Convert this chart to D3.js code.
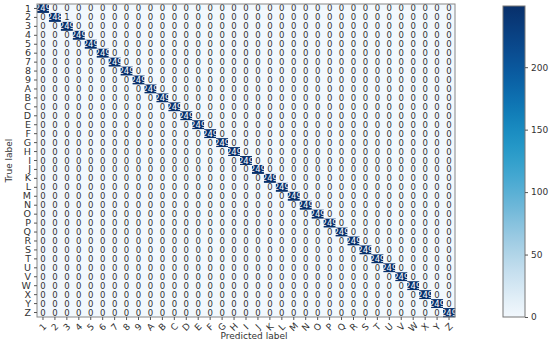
<!DOCTYPE html>
<html><head><meta charset="utf-8">
<script src="https://cdn.jsdelivr.net/npm/d3@7"></script>
<style>body{margin:0;background:#fff}svg{display:block}text{font-family:"DejaVu Sans",sans-serif}</style>
</head><body><svg id="c" width="550" height="343"></svg>
<script>
const labels = ["1","2","3","4","5","6","7","8","9","A","B","C","D","E","F","G","H","I","J","K","L","M","N","O","P","Q","R","S","T","U","V","W","X","Y","Z"];
const diagonal = [249,248,249,249,249,249,249,249,249,249,249,249,249,249,249,249,249,249,249,249,249,249,249,249,249,249,249,249,249,249,249,249,249,249,249];
const offDiagonal = [{row:"2", col:"3", value:1}];
const colorTicks = [0,50,100,150,200];
const vmax = 249;
const cmapStops = ["#f2f8fd","#c9e0ef","#8fc4de","#4aaad3","#1a96c6","#0a6cb0","#0a4a90","#08306b"];

const matrix = [];
labels.forEach((r,i)=>labels.forEach((c,j)=>{
  let v = i===j ? diagonal[i] : 0;
  const o = offDiagonal.find(d=>d.row===r&&d.col===c);
  if(o) v = o.value;
  matrix.push({r,c,v});
}));

const interp = d3.interpolateRgbBasis(cmapStops);
const svg = d3.select("#c");
const m = {l:37, r:455, t:4, b:317};
const x = d3.scaleBand().domain(labels).range([m.l,m.r]);
const y = d3.scaleBand().domain(labels).range([m.t,m.b]);
const color = d3.scaleSequential(interp).domain([0,vmax]);

svg.append("g").selectAll("rect").data(matrix).join("rect")
  .attr("x",d=>x(d.c)).attr("y",d=>y(d.r))
  .attr("width",x.bandwidth()+0.3).attr("height",y.bandwidth()+0.3)
  .attr("fill",d=>color(d.v));

svg.append("g").selectAll("text").data(matrix).join("text")
  .attr("x",d=>x(d.c)+x.bandwidth()/2).attr("y",d=>y(d.r)+y.bandwidth()/2)
  .attr("text-anchor","middle").attr("dominant-baseline","central")
  .attr("font-size",8.5)
  .attr("fill",d=>d.v>vmax/2?"#fff":"#333")
  .text(d=>d.v);

svg.append("rect").attr("x",m.l).attr("y",m.t).attr("width",m.r-m.l).attr("height",m.b-m.t)
  .attr("fill","none").attr("stroke","#888").attr("stroke-width",1);

const xa = svg.append("g").attr("transform",`translate(0,${m.b})`)
  .call(d3.axisBottom(x).tickSize(3).tickSizeOuter(0));
xa.select(".domain").remove();
xa.selectAll("line").attr("stroke","#555");
xa.selectAll("text").attr("font-size",9).attr("fill","#333")
  .attr("text-anchor","middle").attr("dominant-baseline","central").attr("y",0).attr("dy",null)
  .attr("transform","translate(0,10) rotate(-45)");

const ya = svg.append("g").attr("transform",`translate(${m.l},0)`)
  .call(d3.axisLeft(y).tickSize(3).tickSizeOuter(0));
ya.select(".domain").remove();
ya.selectAll("line").attr("stroke","#555");
ya.selectAll("text").attr("font-size",9.5).attr("fill","#333");

svg.append("text").attr("x",(m.l+m.r)/2+8).attr("y",339).attr("text-anchor","middle")
  .attr("font-size",9).attr("fill","#333").text("Predicted label");
svg.append("text").attr("transform",`translate(12,${(m.t+m.b)/2}) rotate(-90)`)
  .attr("text-anchor","middle").attr("font-size",9).attr("fill","#333").text("True label");

// colorbar
const cb = {x:503, w:22, t:6, b:317};
const defs = svg.append("defs");
const grad = defs.append("linearGradient").attr("id","g").attr("x1",0).attr("x2",0).attr("y1",1).attr("y2",0);
d3.range(0,1.001,0.05).forEach(t=>grad.append("stop").attr("offset",t).attr("stop-color",interp(t)));
svg.append("rect").attr("x",cb.x).attr("y",cb.t).attr("width",cb.w).attr("height",cb.b-cb.t)
  .attr("fill","url(#g)").attr("stroke","#777").attr("stroke-width",1);
const cs = d3.scaleLinear().domain([0,vmax]).range([cb.b,cb.t]);
const ca = svg.append("g").attr("transform",`translate(${cb.x+cb.w},0)`)
  .call(d3.axisRight(cs).tickValues(colorTicks).tickSize(3).tickSizeOuter(0));
ca.select(".domain").remove();
ca.selectAll("line").attr("stroke","#555");
ca.selectAll("text").attr("font-size",9).attr("fill","#333");
</script></body></html>
